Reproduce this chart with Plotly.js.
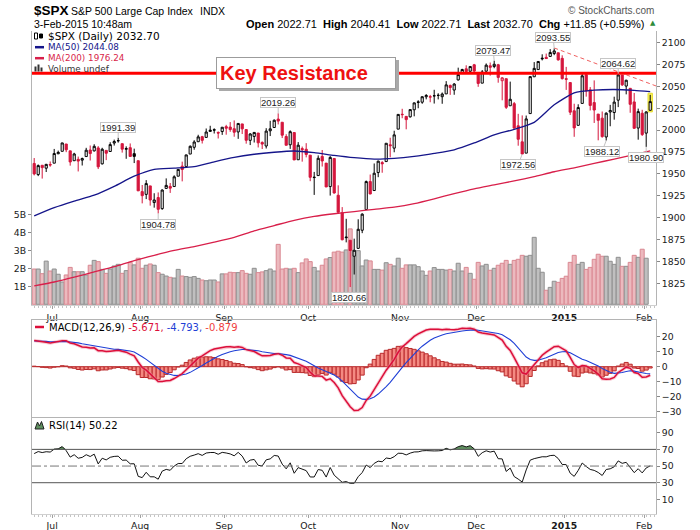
<!DOCTYPE html>
<html>
<head>
<meta charset="utf-8">
<script src="https://cdn.plot.ly/plotly-3.0.1.min.js"></script>
<style>
  html, body { margin: 0; padding: 0; background: #ffffff; }
  #chart { width: 700px; height: 530px; }
</style>
</head>
<body>
<div id="chart"></div>
<script>
// ---- S&P 500 daily bars, 24 Jun 2014 .. 3 Feb 2015 (last bar intraday) ----
const dates = [
  '2014-06-24','2014-06-25','2014-06-26','2014-06-27','2014-06-30',
  '2014-07-01','2014-07-02','2014-07-03','2014-07-07','2014-07-08','2014-07-09','2014-07-10','2014-07-11','2014-07-14','2014-07-15','2014-07-16','2014-07-17','2014-07-18','2014-07-21','2014-07-22','2014-07-23','2014-07-24','2014-07-25','2014-07-28','2014-07-29','2014-07-30','2014-07-31',
  '2014-08-01','2014-08-04','2014-08-05','2014-08-06','2014-08-07','2014-08-08','2014-08-11','2014-08-12','2014-08-13','2014-08-14','2014-08-15','2014-08-18','2014-08-19','2014-08-20','2014-08-21','2014-08-22','2014-08-25','2014-08-26','2014-08-27','2014-08-28','2014-08-29',
  '2014-09-02','2014-09-03','2014-09-04','2014-09-05','2014-09-08','2014-09-09','2014-09-10','2014-09-11','2014-09-12','2014-09-15','2014-09-16','2014-09-17','2014-09-18','2014-09-19','2014-09-22','2014-09-23','2014-09-24','2014-09-25','2014-09-26','2014-09-29','2014-09-30',
  '2014-10-01','2014-10-02','2014-10-03','2014-10-06','2014-10-07','2014-10-08','2014-10-09','2014-10-10','2014-10-13','2014-10-14','2014-10-15','2014-10-16','2014-10-17','2014-10-20','2014-10-21','2014-10-22','2014-10-23','2014-10-24','2014-10-27','2014-10-28','2014-10-29','2014-10-30','2014-10-31',
  '2014-11-03','2014-11-04','2014-11-05','2014-11-06','2014-11-07','2014-11-10','2014-11-11','2014-11-12','2014-11-13','2014-11-14','2014-11-17','2014-11-18','2014-11-19','2014-11-20','2014-11-21','2014-11-24','2014-11-25','2014-11-26','2014-11-28',
  '2014-12-01','2014-12-02','2014-12-03','2014-12-04','2014-12-05','2014-12-08','2014-12-09','2014-12-10','2014-12-11','2014-12-12','2014-12-15','2014-12-16','2014-12-17','2014-12-18','2014-12-19','2014-12-22','2014-12-23','2014-12-24','2014-12-26','2014-12-29','2014-12-30','2014-12-31',
  '2015-01-02','2015-01-05','2015-01-06','2015-01-07','2015-01-08','2015-01-09','2015-01-12','2015-01-13','2015-01-14','2015-01-15','2015-01-16','2015-01-20','2015-01-21','2015-01-22','2015-01-23','2015-01-26','2015-01-27','2015-01-28','2015-01-29','2015-01-30',
  '2015-02-02','2015-02-03'
];

const open = [
  1961.97,1949.27,1959.89,1956.56,1960.79,
  1962.29,1973.06,1975.88,1984.22,1976.39,1965.10,1966.67,1965.76,1969.86,1977.36,1976.35,1979.75,1961.54,1976.93,1975.65,1985.32,1988.07,1984.60,1978.25,1980.03,1973.21,1965.14,
  1929.80,1926.62,1936.34,1917.29,1923.03,1910.35,1933.43,1935.73,1935.60,1947.41,1958.87,1958.36,1972.73,1980.46,1986.82,1992.60,1991.74,1998.59,2000.54,1997.42,1998.45,
  2004.07,2003.57,2001.67,1998.00,2007.17,2000.73,1988.41,1992.85,1996.74,1986.04,1981.93,1999.30,2003.07,2012.74,2009.08,1992.78,1983.34,1997.32,1966.22,1978.96,1978.21,
  1971.44,1945.83,1948.12,1970.01,1962.36,1935.55,1967.68,1925.63,1905.65,1877.11,1874.18,1855.95,1864.91,1885.62,1909.38,1941.29,1931.02,1951.59,1962.97,1964.14,1983.29,1979.49,2001.20,
  2018.21,2015.81,2015.29,2023.33,2032.36,2032.01,2038.20,2037.75,2039.21,2039.74,2038.29,2041.48,2051.16,2045.87,2057.46,2065.07,2070.15,2067.36,2074.78,
  2065.78,2053.77,2067.45,2073.64,2072.78,2074.84,2056.55,2058.86,2027.92,2030.36,2005.03,1986.71,1973.77,2018.98,2061.04,2069.28,2081.48,2083.25,2084.30,2087.63,2088.49,2082.11,
  2058.90,2054.44,2022.15,2005.55,2030.61,2063.45,2046.13,2031.58,2018.40,2013.75,1992.25,2020.76,2020.19,2034.30,2062.98,2050.42,2047.86,2032.34,2002.45,2019.35,
  1996.67,2022.71
];
const high = [
  1968.17,1960.83,1959.89,1961.47,1964.24,
  1978.58,1976.67,1985.59,1984.22,1976.39,1974.15,1969.84,1968.67,1979.85,1982.52,1983.94,1981.80,1979.91,1976.93,1986.24,1989.23,1991.39,1984.60,1981.52,1984.85,1978.90,1965.14,
  1937.35,1942.92,1936.34,1927.91,1928.89,1932.38,1944.90,1939.65,1948.41,1955.23,1964.04,1971.99,1982.57,1988.57,1994.76,1993.54,2001.95,2005.04,2002.14,1998.55,2003.38,
  2006.12,2009.28,2011.17,2007.71,2007.17,2001.01,1996.66,1997.65,1996.74,1987.18,2002.28,2010.74,2012.34,2019.26,2009.08,1995.41,1999.79,1997.32,1986.37,1981.28,1985.17,
  1971.44,1952.32,1971.19,1977.37,1962.36,1970.36,1967.68,1936.98,1912.09,1898.71,1874.18,1876.01,1898.16,1905.03,1942.45,1949.31,1961.95,1965.27,1964.64,1985.05,1991.40,1999.40,2018.19,
  2024.46,2015.98,2023.77,2031.61,2034.26,2038.70,2041.28,2040.33,2046.18,2042.22,2043.07,2056.08,2052.14,2053.84,2071.46,2070.17,2074.21,2073.29,2075.76,
  2065.78,2068.77,2076.28,2077.34,2079.47,2075.78,2060.60,2058.86,2055.53,2032.25,2018.69,2016.89,2016.75,2061.23,2077.85,2078.76,2086.73,2087.56,2092.70,2093.55,2088.49,2085.58,
  2072.36,2054.44,2030.25,2029.61,2064.08,2064.43,2049.30,2056.93,2018.40,2021.35,2020.46,2028.94,2038.29,2064.62,2062.98,2057.62,2047.86,2042.49,2024.64,2023.32,
  2021.66,2040.41
];
const low = [
  1948.34,1947.49,1944.69,1952.18,1958.22,
  1962.29,1972.58,1975.88,1974.88,1959.46,1965.10,1952.86,1959.63,1969.86,1965.34,1975.67,1955.59,1960.82,1965.77,1975.65,1982.44,1985.79,1974.37,1967.31,1969.95,1962.42,1930.67,
  1916.37,1921.20,1913.77,1911.45,1904.78,1909.01,1933.43,1928.29,1935.60,1947.41,1941.50,1958.36,1972.73,1977.68,1986.82,1984.76,1991.74,1998.59,1996.20,1990.52,1994.65,
  1994.85,1998.14,1992.54,1990.10,1995.60,1984.61,1982.99,1985.93,1980.26,1978.48,1979.06,1993.29,2003.07,2006.59,1991.01,1982.77,1978.63,1965.99,1966.22,1964.04,1968.96,
  1941.72,1926.03,1948.12,1958.43,1935.10,1925.25,1927.56,1906.05,1874.14,1871.79,1820.66,1835.02,1864.91,1882.30,1909.38,1926.83,1931.02,1946.27,1951.37,1964.14,1969.04,1974.75,2001.20,
  2013.68,2001.01,2014.42,2015.86,2025.07,2030.17,2035.28,2031.95,2030.44,2035.20,2030.20,2041.48,2040.37,2040.49,2056.75,2065.07,2064.75,2066.62,2065.06,
  2049.57,2053.77,2066.65,2062.34,2070.81,2054.27,2034.17,2024.26,2027.92,2002.33,1982.26,1972.56,1973.77,2018.98,2061.03,2069.28,2079.77,2081.86,2084.30,2085.75,2079.53,2057.94,
  2046.04,2017.34,1992.44,2005.55,2030.61,2038.33,2022.58,2008.25,1988.44,1991.47,1988.12,2004.49,2012.04,2026.38,2050.54,2040.97,2019.91,2001.49,1989.18,1993.38,
  1980.90,2022.71
];
const close = [
  1949.98,1959.53,1957.22,1960.96,1960.23,
  1973.32,1974.62,1985.44,1977.65,1963.71,1972.83,1964.68,1967.57,1977.10,1973.28,1981.57,1958.12,1978.22,1973.63,1983.53,1987.01,1987.98,1978.34,1978.91,1969.95,1970.07,1930.67,
  1925.15,1938.99,1920.21,1920.24,1909.57,1931.59,1936.92,1933.75,1946.72,1955.18,1955.06,1971.74,1981.60,1986.51,1992.37,1988.40,1997.92,2000.02,2000.12,1996.74,2003.37,
  2002.28,2000.72,1997.65,2007.71,2001.54,1988.44,1995.69,1997.45,1985.54,1984.13,1998.98,2001.57,2011.36,2010.40,1994.29,1982.77,1998.30,1965.99,1982.85,1977.80,1972.29,
  1946.16,1946.17,1967.90,1964.82,1935.10,1968.89,1928.21,1906.13,1874.74,1877.70,1862.49,1862.76,1886.76,1904.01,1941.28,1927.11,1950.82,1964.58,1961.63,1985.05,1982.30,1994.65,2018.05,
  2017.81,2012.10,2023.57,2031.21,2031.92,2038.26,2039.68,2038.25,2039.33,2039.82,2041.32,2051.80,2048.72,2052.75,2063.50,2069.41,2067.03,2072.83,2067.56,
  2053.44,2066.55,2074.33,2071.92,2075.37,2060.31,2059.82,2026.14,2035.33,2002.33,1989.63,1972.74,2012.89,2061.23,2070.65,2078.54,2082.17,2081.88,2088.77,2090.57,2080.35,2058.90,
  2058.20,2020.58,2002.61,2025.90,2062.14,2044.81,2028.26,2023.03,2011.27,1992.67,2019.42,2022.55,2032.12,2063.15,2051.82,2057.09,2029.55,2002.16,2021.25,1994.99,
  2020.85,2032.70
];
// volume in billions of shares (last bar: not yet reported)
const volumeB = [
  1.96,1.96,1.70,2.40,1.85,
  1.96,1.67,1.24,1.63,2.05,1.81,1.81,1.81,1.63,2.17,2.44,2.37,1.94,1.72,1.96,2.13,2.22,1.72,1.87,2.33,2.19,2.56,
  2.00,2.17,2.24,2.17,1.76,1.67,1.57,1.50,1.46,1.94,1.57,1.54,1.50,1.54,1.44,1.35,1.31,1.35,1.35,1.24,1.69,
  1.69,1.78,1.76,1.76,1.87,1.72,1.67,2.00,1.76,1.80,1.87,1.96,1.85,3.33,1.96,2.00,1.96,2.00,1.76,2.30,2.52,
  2.37,2.05,1.85,2.17,2.52,2.60,2.90,2.95,2.90,3.02,4.19,2.98,2.98,2.13,2.46,2.41,1.94,1.94,1.90,2.31,2.22,2.13,2.56,
  2.00,2.19,2.19,2.19,2.09,1.85,1.61,1.85,2.04,1.94,1.94,1.90,1.94,1.85,2.28,1.85,2.05,1.72,1.39,
  2.33,2.13,2.22,1.89,2.00,2.17,2.28,2.44,2.22,2.44,2.50,2.72,2.67,2.72,3.72,2.00,1.78,0.78,0.94,1.28,1.22,1.44,
  1.56,2.33,2.72,2.22,2.33,1.94,2.05,2.50,2.78,2.67,2.67,2.39,2.22,2.61,2.11,2.11,2.33,2.72,2.61,3.06,
  2.56,null
];
const prevClose = 1962.61;   // close of 23 Jun 2014

// moving averages (sampled every 5 sessions)
const maIdx  = [0,5,10,15,20,25,30,35,40,45,50,55,60,65,70,75,80,85,90,95,100,105,110,115,120,125,130,135,140,145,150,154];
const ma50   = [1902,1911.4,1918.9,1925.7,1935.8,1947.4,1955.2,1956.6,1958.3,1963.9,1969,1972.5,1974.8,1976.2,1974.3,1971.2,1968.6,1967,1967.8,1970.1,1973.5,1977.6,1985.4,1994.6,2001,2009,2029,2042.6,2045.7,2046.5,2045.5,2044.08];
const ma200  = [1822,1826.5,1832,1838,1844,1851,1857,1862.5,1867,1872,1877.5,1885,1891,1897,1901.5,1904.5,1907,1909.5,1912,1916,1921.5,1927.5,1933,1937.5,1942,1947,1952.5,1957,1962,1967,1972,1976.24];

// annotations on the price panel
const resistanceLevel = 2065;
const trendIdx = [130, 155.5];
const trendVal = [2094, 2050.5];
const pivotDates = ['2014-07-24','2014-08-07','2014-09-19','2014-10-15','2014-12-05','2014-12-16','2014-12-29','2015-01-16','2015-01-22','2015-02-02'];
const pivotSide  = ['high','low','high','low','high','low','high','low','high','low'];
const pivotDx    = [0,0,0,-1,-1,-4,-1,-4,0,0];

const priceTicks = [1825,1850,1875,1900,1925,1950,1975,2000,2025,2050,2075,2100];
const volTicks = [1,2,3,4,5];
const macdTicks = [-30,-20,-10,0,10,20];
const rsiTicks = [10,30,50,70,90];
const monthNames = ['Jan','Feb','Mar','Apr','May','Jun','Jul','Aug','Sep','Oct','Nov','Dec'];

// ---------------- derived series ----------------
const n = close.length;
const idx = close.map((_, i) => i);
const prev = close.map((c, i) => (i === 0 ? prevClose : close[i - 1]));
const upDay = close.map((c, i) => c >= prev[i]);

// month separators for the time axis
const tickVals = [], tickText = [];
for (let i = 1; i < n; i++) {
  if (dates[i].slice(5, 7) !== dates[i - 1].slice(5, 7)) {
    const m = +dates[i].slice(5, 7) - 1;
    tickVals.push(i - 0.5);
    tickText.push(m === 0 ? '<b>' + dates[i].slice(0, 4) + '</b>' : monthNames[m]);
  }
}

// MACD(12,26,9)
let e12 = 1946, e26 = 1927.5, sig = 17.0;
const macd = [], signal = [], hist = [];
for (let i = 0; i < n; i++) {
  e12 += (2 / 13) * (close[i] - e12);
  e26 += (2 / 27) * (close[i] - e26);
  const m = e12 - e26;
  sig += 0.2 * (m - sig);
  macd.push(m); signal.push(sig); hist.push(m - sig);
}

// RSI(14), Wilder smoothing
let ag = 7.0, al = 2.8;
const rsi = [];
for (let i = 0; i < n; i++) {
  const ch = close[i] - prev[i];
  ag = (ag * 13 + Math.max(ch, 0)) / 14;
  al = (al * 13 + Math.max(-ch, 0)) / 14;
  rsi.push(100 - 100 / (1 + ag / al));
}

// ---------------- geometry helpers ----------------
const L = 32, R = 656, T = 31, B = 514;
const px = x => (x - L) / (R - L);
const py = y => (B - y) / (B - T);

const SANS = 'Liberation Sans, Arial, sans-serif';
const VERD = 'DejaVu Sans, Verdana, sans-serif';
const RED = '#d4163c';
const AXIS = '#b4b4b4';

// ---------------- traces ----------------
const traces = [];

// volume
traces.push({
  type: 'bar', xaxis: 'x', yaxis: 'y', x: idx, y: volumeB, width: 1,
  marker: {
    color: upDay.map(u => (u ? '#bfbfbf' : '#ecb9be')),
    line: { color: upDay.map(u => (u ? '#8e8e8e' : '#d98791')), width: 1 }
  },
  hoverinfo: 'none'
});

// candles: outline colour follows change vs previous close, fill follows close vs open
function candles(ids, col) {
  return {
    type: 'candlestick', xaxis: 'x', yaxis: 'y2',
    x: ids, open: ids.map(i => open[i]), high: ids.map(i => high[i]),
    low: ids.map(i => low[i]), close: ids.map(i => close[i]),
    increasing: { line: { color: col, width: 1 }, fillcolor: '#ffffff' },
    decreasing: { line: { color: col, width: 1 }, fillcolor: col },
    whiskerwidth: 0, hoverinfo: 'none'
  };
}
traces.push(candles(idx.filter(i => upDay[i]), '#000000'));
traces.push(candles(idx.filter(i => !upDay[i]), RED));

// moving averages
traces.push({ type: 'scatter', mode: 'lines', xaxis: 'x', yaxis: 'y2', x: maIdx, y: ma50,
  line: { color: '#15158a', width: 1.3, shape: 'spline', smoothing: 0.6 }, hoverinfo: 'none' });
traces.push({ type: 'scatter', mode: 'lines', xaxis: 'x', yaxis: 'y2', x: maIdx, y: ma200,
  line: { color: '#d81f4a', width: 1.3, shape: 'spline', smoothing: 0.6 }, hoverinfo: 'none' });

// falling trend line from the December high
traces.push({ type: 'scatter', mode: 'lines', xaxis: 'x', yaxis: 'y2', x: trendIdx, y: trendVal,
  line: { color: '#f06060', width: 1, dash: '4px,3px' }, hoverinfo: 'none', cliponaxis: true });

// MACD panel
traces.push({ type: 'bar', xaxis: 'x2', yaxis: 'y3', x: idx, y: hist, width: 1,
  marker: { color: '#f48a82', line: { color: '#b8282a', width: 1 } }, hoverinfo: 'none' });
traces.push({ type: 'scatter', mode: 'lines', xaxis: 'x2', yaxis: 'y3', x: idx, y: macd,
  line: { color: 'rgba(240,140,160,0.45)', width: 3.4 }, hoverinfo: 'none' });
traces.push({ type: 'scatter', mode: 'lines', xaxis: 'x2', yaxis: 'y3', x: idx, y: signal,
  line: { color: '#1f3fd6', width: 1.1 }, hoverinfo: 'none' });
traces.push({ type: 'scatter', mode: 'lines', xaxis: 'x2', yaxis: 'y3', x: idx, y: macd,
  line: { color: '#dc0f3a', width: 1.5 }, hoverinfo: 'none' });

// RSI panel: shaded excursions beyond 70 / 30, then the line itself
const GREEN = '#5f8f5f';
traces.push({ type: 'scatter', mode: 'lines', xaxis: 'x3', yaxis: 'y4', x: idx, y: idx.map(() => 70),
  line: { width: 0 }, hoverinfo: 'none' });
traces.push({ type: 'scatter', mode: 'lines', xaxis: 'x3', yaxis: 'y4', x: idx, y: rsi.map(v => Math.max(v, 70)),
  line: { width: 0 }, fill: 'tonexty', fillcolor: GREEN, hoverinfo: 'none' });
traces.push({ type: 'scatter', mode: 'lines', xaxis: 'x3', yaxis: 'y4', x: idx, y: idx.map(() => 30),
  line: { width: 0 }, hoverinfo: 'none' });
traces.push({ type: 'scatter', mode: 'lines', xaxis: 'x3', yaxis: 'y4', x: idx, y: rsi.map(v => Math.min(v, 30)),
  line: { width: 0 }, fill: 'tonexty', fillcolor: GREEN, hoverinfo: 'none' });
traces.push({ type: 'scatter', mode: 'lines', xaxis: 'x3', yaxis: 'y4', x: idx, y: rsi,
  line: { color: '#111111', width: 1 }, hoverinfo: 'none' });

// ---------------- axes ----------------
const xRange = [(L - 34.2) / 4, (R - 34.2) / 4];
const tickFont = { family: VERD, size: 9.3, color: '#1a1a1a' };
const minorTicks = { tickmode: 'linear', tick0: 0, dtick: 1, ticks: 'outside', ticklen: 2, tickcolor: '#c4c4c4', showgrid: false };
const xBase = {
  range: xRange, tickmode: 'array', tickvals: tickVals, ticktext: tickText,
  ticks: 'outside', ticklen: 3, tickcolor: '#a0a0a0', tickfont: tickFont,
  showgrid: false, zeroline: false, showline: true, linecolor: '#d0d0d0',
  minor: minorTicks, rangeslider: { visible: false }, fixedrange: true, automargin: false
};

const layout = {
  width: 700, height: 530,
  margin: { l: L, r: 700 - R, t: T, b: 530 - B, pad: 0 },
  paper_bgcolor: '#ffffff', plot_bgcolor: '#ffffff',
  showlegend: false, hovermode: false, dragmode: false,
  boxgap: 0.22, bargap: 0,
  font: { family: SANS, size: 11, color: '#222' },
  xaxis: Object.assign({}, xBase, { anchor: 'y', domain: [0, 1], ticklabelstandoff: 1 }),
  xaxis2: Object.assign({}, xBase, { anchor: 'y3', matches: 'x', showticklabels: false, ticks: '',
    minor: { ticks: '' }, linecolor: AXIS, mirror: true }),
  xaxis3: Object.assign({}, xBase, { anchor: 'y4', matches: 'x' }),
  yaxis: {
    domain: [py(305), 1], anchor: 'x', side: 'left', range: [(304.3 - 305) / 18, (304.3 - T) / 18],
    tickmode: 'array', tickvals: volTicks, ticktext: volTicks.map(v => v + 'B'),
    ticks: 'outside', ticklen: 3, tickcolor: '#888', tickfont: tickFont,
    showgrid: false, zeroline: false, showline: true, linecolor: AXIS, fixedrange: true, automargin: false
  },
  yaxis2: {
    overlaying: 'y', anchor: 'x', side: 'right',
    range: [1825 - (305 - 283.3) / 0.8749, 1825 + (283.3 - T) / 0.8749],
    tickmode: 'array', tickvals: priceTicks, ticks: 'outside', ticklen: 3, tickcolor: '#888',
    tickfont: tickFont, showgrid: false, zeroline: false, showline: true, linecolor: AXIS,
    fixedrange: true, automargin: false
  },
  yaxis3: {
    domain: [py(417), py(320)], anchor: 'x2', side: 'right',
    range: [-(417 - 366.7) / 1.5, (366.7 - 320) / 1.5],
    tickmode: 'array', tickvals: macdTicks, ticks: 'outside', ticklen: 3, tickcolor: '#888',
    tickfont: tickFont, showgrid: false, zeroline: false, showline: true, mirror: true, linecolor: AXIS,
    fixedrange: true, automargin: false
  },
  yaxis4: {
    domain: [0, py(417)], anchor: 'x3', side: 'right',
    range: [-(B - 507.7) / 0.833, (507.7 - 417) / 0.833],
    tickmode: 'array', tickvals: rsiTicks, ticks: 'outside', ticklen: 3, tickcolor: '#888',
    tickfont: tickFont, showgrid: false, zeroline: false, showline: true, mirror: true, linecolor: AXIS,
    fixedrange: true, automargin: false
  }
};

// ---------------- shapes ----------------
const last = n - 1;
const shapes = [
  // highlight behind the live bar
  { type: 'rect', xref: 'x', yref: 'y2', x0: last - 0.55, x1: last + 0.55, y0: low[last] - 1.8, y1: high[last] + 1.8,
    fillcolor: '#fbf35a', line: { color: '#e6dc30', width: 1 }, layer: 'below' },
  // resistance
  { type: 'line', xref: 'paper', yref: 'y2', x0: 0, x1: 1, y0: resistanceLevel, y1: resistanceLevel,
    line: { color: '#ff0000', width: 3 }, layer: 'above' },
  // drop shadow of the caption box
  { type: 'rect', xref: 'paper', yref: 'paper', x0: px(219), x1: px(399), y0: py(91), y1: py(60),
    fillcolor: '#a9a9a9', line: { width: 0 }, layer: 'above' },
  // RSI reference levels
  { type: 'line', xref: 'paper', yref: 'y4', x0: 0, x1: 1, y0: 70, y1: 70, line: { color: '#555', width: 1 } },
  { type: 'line', xref: 'paper', yref: 'y4', x0: 0, x1: 1, y0: 30, y1: 30, line: { color: '#555', width: 1 } },
  { type: 'line', xref: 'paper', yref: 'y4', x0: 0, x1: 1, y0: 50, y1: 50, line: { color: '#777', width: 1, dash: 'dashdot' } },
  // legend swatches
  { type: 'line', xref: 'paper', yref: 'paper', x0: px(35), x1: px(44), y0: py(47.2), y1: py(47.2), line: { color: '#15158a', width: 2.5 } },
  { type: 'line', xref: 'paper', yref: 'paper', x0: px(35), x1: px(44), y0: py(58.2), y1: py(58.2), line: { color: '#d81f4a', width: 2.5 } },
  { type: 'line', xref: 'paper', yref: 'paper', x0: px(35), x1: px(44), y0: py(327), y1: py(327), line: { color: '#dc0f3a', width: 2.5 } },
  // volume swatch
  { type: 'rect', xref: 'paper', yref: 'paper', x0: px(34.5), x1: px(36.5), y0: py(71.5), y1: py(66.5), fillcolor: '#333', line: { width: 0 } },
  { type: 'rect', xref: 'paper', yref: 'paper', x0: px(37.5), x1: px(39.5), y0: py(71.5), y1: py(64.5), fillcolor: '#333', line: { width: 0 } },
  { type: 'rect', xref: 'paper', yref: 'paper', x0: px(40.5), x1: px(42.5), y0: py(71.5), y1: py(67.5), fillcolor: '#333', line: { width: 0 } },
  // price swatch (two tiny candles)
  { type: 'rect', xref: 'paper', yref: 'paper', x0: px(34.5), x1: px(37.5), y0: py(39), y1: py(33), fillcolor: '#fff', line: { color: '#000', width: 1 } },
  { type: 'rect', xref: 'paper', yref: 'paper', x0: px(39.5), x1: px(42.5), y0: py(38), y1: py(34), fillcolor: '#000', line: { color: '#000', width: 1 } },
  // RSI swatch
  { type: 'path', xref: 'paper', yref: 'paper',
    path: `M ${px(35)},${py(429)} L ${px(37.5)},${py(422)} L ${px(39.5)},${py(426)} L ${px(41.5)},${py(421.5)} L ${px(44)},${py(429)} Z`,
    fillcolor: GREEN, line: { color: '#222', width: 1 } }
];
layout.shapes = shapes;

// ---------------- annotations ----------------
const ann = [];
function txt(x, y, text, font, xanchor, extra) {
  ann.push(Object.assign({ xref: 'paper', yref: 'paper', x: px(x), y: py(y), text, showarrow: false,
    xanchor: xanchor || 'left', yanchor: 'middle', font }, extra || {}));
}
const sp = '\u00a0';
txt(32, 10.5, '<b>$SPX</b>', { family: SANS, size: 13.5, color: '#000' });
txt(69, 11, 'S&amp;P 500 Large Cap Index', { family: SANS, size: 10.5, color: '#000' });
txt(197.5, 11, 'INDX', { family: SANS, size: 10.5, color: '#000' });
txt(32, 23.5, '3-Feb-2015 10:48am', { family: SANS, size: 10.5, color: '#000' });
const chg = close[last] - close[last - 1];
const quote = `<b>Open</b> ${open[last].toFixed(2)}${sp}${sp}<b>High</b> ${high[last].toFixed(2)}${sp}${sp}` +
  `<b>Low</b> ${low[last].toFixed(2)}${sp}${sp}<b>Last</b> ${close[last].toFixed(2)}${sp}${sp}` +
  `<b>Chg</b> ${chg >= 0 ? '+' : ''}${chg.toFixed(2)} (${chg >= 0 ? '+' : ''}${(100 * chg / close[last - 1]).toFixed(2)}%)`;
txt(647, 23.5, quote, { family: SANS, size: 11, color: '#000' }, 'right');
txt(653, 23, '▲', { family: VERD, size: 7, color: '#2e8b3a' }, 'center');
txt(656, 10, '© StockCharts.com', { family: SANS, size: 10, color: '#555' }, 'right');

// panel legends
txt(46, 35.8, '$SPX (Daily) ' + close[last].toFixed(2), { family: VERD, size: 10.5, color: '#000' });
txt(45.5, 47.2, 'MA(50) ' + ma50[ma50.length - 1].toFixed(2), { family: VERD, size: 8.8, color: '#15158a' });
txt(45.5, 58.2, 'MA(200) ' + ma200[ma200.length - 1].toFixed(2), { family: VERD, size: 8.8, color: '#d81f4a' });
txt(45.5, 69.4, 'Volume undef', { family: VERD, size: 8.8, color: '#333' });
const f3 = v => v.toFixed(3);
txt(47, 327, `MACD(12,26,9) <span style="color:#dc0f3a">${f3(macd[last])},</span> <span style="color:#1f3fd6">${f3(signal[last])},</span> <span style="color:#f04040">${f3(hist[last])}</span>`,
  { family: VERD, size: 10, color: '#000' });
txt(47, 425, 'RSI(14) ' + rsi[last].toFixed(2), { family: VERD, size: 10, color: '#000' });

// caption box
txt(216, 73, '<b>Key Resistance</b>', { family: SANS, size: 20, color: '#ee1111' }, 'left',
  { bgcolor: '#ffffff', bordercolor: '#9c9c9c', borderwidth: 1, borderpad: 3, width: 172, height: 24, align: 'left' });

// pivot labels
pivotDates.forEach((d, k) => {
  const i = dates.indexOf(d);
  const v = pivotSide[k] === 'high' ? high[i] : low[i];
  ann.push({
    xref: 'x', yref: 'y2', x: i, y: v, text: v.toFixed(2),
    showarrow: true, arrowhead: 0, arrowwidth: 1, arrowcolor: '#c2c2c2', standoff: 0,
    ax: pivotDx[k], ay: pivotSide[k] === 'high' ? -10.5 : 10.5,
    bgcolor: '#ffffff', bordercolor: '#c6c6c6', borderwidth: 1, borderpad: 0, height: 9,
    font: { family: SANS, size: 9.5, color: '#222' }
  });
});
layout.annotations = ann;

Plotly.newPlot('chart', traces, layout, { staticPlot: true, displayModeBar: false });
</script>
</body>
</html>
